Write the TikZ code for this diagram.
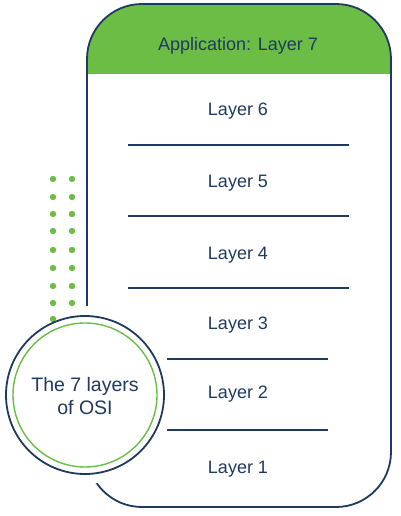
\documentclass[tikz,border=0pt]{standalone}
\usepackage{fontspec}
\setmainfont{Liberation Sans}
\definecolor{osinavy}{HTML}{1F3A60}
\definecolor{osigreen}{HTML}{6CBD45}

\begin{document}
\begin{tikzpicture}[x=1pt, y=-1pt,
  capa/.style={anchor=base, text=osinavy, font=\fontsize{18}{22}\selectfont},
  raya/.style={draw=osinavy, line width=1.4pt},
  punto/.style={fill=osigreen},
  marco/.style={draw=osinavy, line width=1.8pt, rounded corners=55pt}]
\useasboundingbox (0,0) rectangle (400,516);
% pila de capas
\begin{scope}
  \clip[rounded corners=55pt] (87,4) rectangle (391,507);
  \fill[osigreen] (87,4) rectangle (391,74);
\end{scope}
\draw[marco] (87,4) rectangle (391,507);
\node[capa] (capa7) at (238,51) {Application: Layer 7};
\node[capa] (capa6) at (238,116) {Layer 6};
\node[capa] (capa5) at (238,187) {Layer 5};
\node[capa] (capa4) at (238,259) {Layer 4};
\node[capa] (capa3) at (238,329) {Layer 3};
\node[capa] (capa2) at (238,398) {Layer 2};
\node[capa] (capa1) at (238,473) {Layer 1};
\foreach \y in {145,216,288}
  \draw[raya] (128,\y) -- (349,\y);
\foreach \y in {359,430}
  \draw[raya] (167,\y) -- (328,\y);
% hueco blanco
\fill[white] (85,395) circle[radius=89];
% puntos
\foreach \x in {53,72}
  \foreach \y in {179,197,214,231,250,268,286,303,319}
    \fill[punto] (\x,\y) circle[radius=3.2];
% circulo OSI
\draw[osinavy, line width=1.8pt, fill=white] (85,395) circle[radius=79];
\draw[osigreen, line width=1.4pt] (85,395) circle[radius=72];
\node[text=osinavy, align=center, font=\fontsize{19.5}{22.5}\selectfont] (osi) at (85,396) {The 7 layers\\of OSI};
\end{tikzpicture}
\end{document}
